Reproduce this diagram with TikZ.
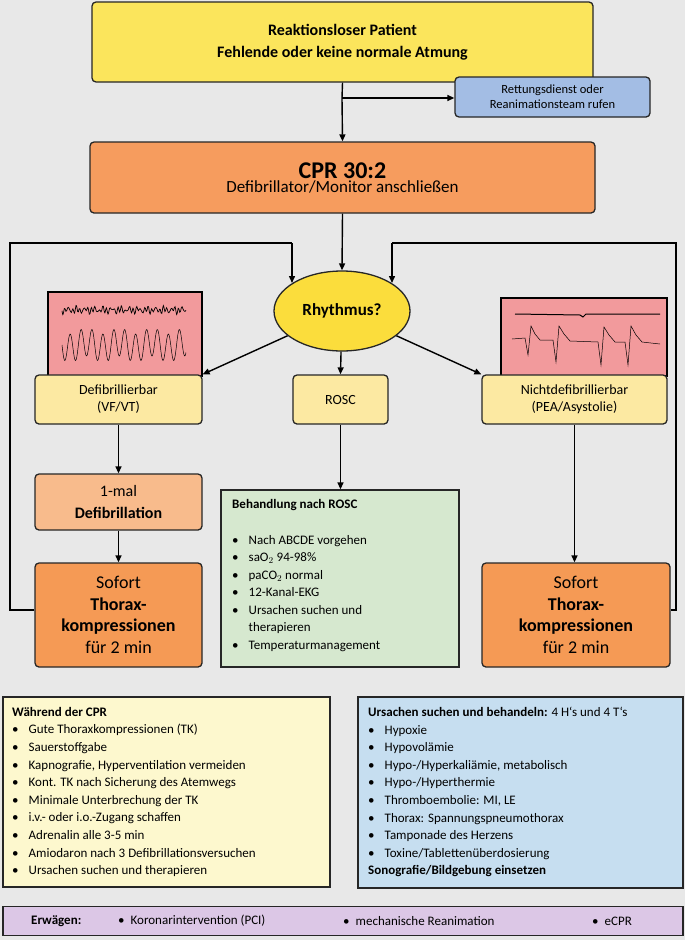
\documentclass[tikz,border=0pt]{standalone}
\usepackage{fontspec}
\setmainfont{Carlito}
\usetikzlibrary{arrows.meta,shapes.geometric}
\definecolor{bg}{HTML}{E8E8E8}
\definecolor{ytop}{HTML}{FBE55C}
\definecolor{bluebox}{HTML}{A3BDE4}
\definecolor{cpr}{HTML}{F69C5E}
\definecolor{ell}{HTML}{FBDD3C}
\definecolor{ecg}{HTML}{F29A9C}
\definecolor{lightY}{HTML}{FCE9A2}
\definecolor{defi}{HTML}{F8BB8C}
\definecolor{sofort}{HTML}{F59A55}
\definecolor{green}{HTML}{D6E8CF}
\definecolor{paleY}{HTML}{FDF8CE}
\definecolor{paleB}{HTML}{C6DEF0}
\definecolor{purp}{HTML}{DCC7E6}
\tikzset{
 box/.style={draw=black!85,line width=1.3pt,rounded corners=4pt,inner sep=2pt,align=center},
 arr/.style={line width=1.4pt,-{Triangle[length=7pt,width=6pt]}},
 ln/.style={line width=1.4pt},
 fs/.style={font=\fontsize{#1pt}{\dimexpr#1pt*6/5\relax}\selectfont}
}
\begin{document}
\begin{tikzpicture}[x=1pt,y=-1pt]
\fill[bg] (0,0) rectangle (685,940);
\useasboundingbox (0,0) rectangle (685,940);
% top
\node[box,fill=ytop,minimum width=501pt,minimum height=80pt,fs=16] (top) at (342.5,42) {\textbf{Reaktionsloser Patient}\\[3pt]\textbf{Fehlende oder keine normale Atmung}};
\node[box,fill=bluebox,minimum width=195pt,minimum height=40pt,fs=12.5] (ret) at (552.5,97) {Rettungsdienst oder\\Reanimationsteam rufen};
\node[box,fill=cpr,minimum width=505pt,minimum height=71pt] (cpr) at (342.5,177.5) {\fontsize{24}{28}\selectfont\textbf{CPR 30:2}\\[2pt]\fontsize{17}{20}\selectfont Defibrillator/Monitor anschließen};
\coordinate (br) at (342,98);
\draw[ln] (top.south) -- (br);
\draw[arr] (br) -- (cpr.north);
\draw[arr] (br) -- (ret.west|-br);
% ellipse
\node[draw=black!85,line width=1.3pt,ellipse,fill=ell,minimum width=136pt,minimum height=80pt,fs=17] (rh) at (342,311) {\textbf{Rhythmus?}};
\draw[arr] (cpr.south) -- (rh.north);
% ECG boxes
\node[draw=black,line width=1.6pt,fill=ecg,minimum width=154pt,minimum height=84pt] (ecgL) at (125,334) {};
\node[draw=black,line width=1.6pt,fill=ecg,minimum width=166pt,minimum height=78pt] (ecgR) at (584,337) {};
% left ECG
\draw[line width=0.7pt] plot[domain=0:124,samples=160,smooth] ({62+\x},{310+2.2*sin(\x*95)+1.5*sin(\x*41+30)+1.2*sin(\x*120)});
\draw[line width=0.5pt] plot[domain=0:124,samples=220,smooth] ({62+\x},{345+14*sin(\x*33)+3*sin(\x*11)});
% right ECG
\draw[line width=1pt] (515,314) -- (580,315) -- (583,317) -- (586,314) -- (660,314);
\draw[line width=0.5pt] (512,339) -- (525,338) -- (528,355) -- (531,326) -- (535,334) -- (540,340) -- (553,340) -- (556,362) -- (559,326) -- (564,334) -- (570,341) -- (598,342) -- (601,365) -- (604,327) -- (609,335) -- (615,342) -- (625,342) -- (628,365) -- (631,326) -- (636,335) -- (642,342) -- (660,344);
% row of small boxes
\node[box,fill=lightY,minimum width=167pt,minimum height=49pt,fs=14] (dL) at (118.5,399.5) {Defibrillierbar\\(VF/VT)};
\node[box,fill=lightY,minimum width=95pt,minimum height=49pt,fs=14] (ro) at (340.5,399.5) {ROSC};
\node[box,fill=lightY,minimum width=185pt,minimum height=49pt,fs=14] (dR) at (574.5,399.5) {Nichtdefibrillierbar\\(PEA/Asystolie)};
\draw[arr] (rh) -- (dL.north east);
\draw[arr] (rh) -- (ro.north);
\draw[arr] (rh) -- (dR.north west);
% defibrillation
\node[box,fill=defi,minimum width=167pt,minimum height=56pt,fs=16] (de) at (118.5,502) {1-mal\\[2pt]\textbf{Defibrillation}};
\node[box,fill=sofort,minimum width=167pt,minimum height=104pt,fs=18] (sL) at (118.5,615) {Sofort\\\textbf{Thorax-}\\\textbf{kompressionen}\\für 2 min};
\node[box,fill=sofort,minimum width=188pt,minimum height=104pt,fs=18] (sR) at (576,615) {Sofort\\\textbf{Thorax-}\\\textbf{kompressionen}\\für 2 min};
\draw[arr] (dL.south) -- (de.north);
\draw[arr] (de.south) -- (sL.north);
\draw[arr] (dR.south) -- (sR.north-|dR.south);
% green box
\node[draw=black!85,line width=1.3pt,fill=green,minimum width=238pt,minimum height=177pt] (gr) at (340,578.5) {};
\node[anchor=north west,align=left,fs=13,inner sep=0pt] (grt) at (232,499) {\textbf{Behandlung nach ROSC}};
\node[anchor=north west,align=left,inner sep=0pt,font=\fontsize{13}{17.5}\selectfont] (grl) at (232,535) {%
\textbullet\hspace{10pt}Nach ABCDE vorgehen\\
\textbullet\hspace{10pt}saO$_2$ 94-98\%\\
\textbullet\hspace{10pt}paCO$_2$ normal\\
\textbullet\hspace{10pt}12-Kanal-EKG\\
\textbullet\hspace{10pt}Ursachen suchen und\\
\phantom{\textbullet}\hspace{10pt}therapieren\\
\textbullet\hspace{10pt}Temperaturmanagement};
\draw[arr] (ro.south) -- (gr.north-|ro.south);
% loops
\coordinate (l1) at (10,610); \coordinate (l2) at (10,243); \coordinate (l3) at (292,243);
\draw[ln] (sL.west|-l1) -- (l1) -- (l2) -- (l3);
\draw[arr] (l3) -- (292,283);
\coordinate (r1) at (676,610); \coordinate (r2) at (676,243); \coordinate (r3) at (392,243);
\draw[ln] (sR.east|-r1) -- (r1) -- (r2) -- (r3);
\draw[arr] (r3) -- (392,283);
% bottom boxes
\node[draw=black!85,line width=1.3pt,fill=paleY,minimum width=327pt,minimum height=190pt] (bY) at (166.5,792) {};
\node[anchor=north west,align=left,inner sep=0pt,font=\fontsize{13}{17.6}\selectfont] (bYt) at (12,707) {%
\textbf{Während der CPR}\\
\textbullet\hspace{10pt}Gute Thoraxkompressionen (TK)\\
\textbullet\hspace{10pt}Sauerstoffgabe\\
\textbullet\hspace{10pt}Kapnografie, Hyperventilation vermeiden\\
\textbullet\hspace{10pt}Kont. TK nach Sicherung des Atemwegs\\
\textbullet\hspace{10pt}Minimale Unterbrechung der TK\\
\textbullet\hspace{10pt}i.v.- oder i.o.-Zugang schaffen\\
\textbullet\hspace{10pt}Adrenalin alle 3-5 min\\
\textbullet\hspace{10pt}Amiodaron nach 3 Defibrillationsversuchen\\
\textbullet\hspace{10pt}Ursachen suchen und therapieren};
\node[draw=black!85,line width=1.3pt,fill=paleB,minimum width=325pt,minimum height=191pt] (bB) at (520.5,792.5) {};
\node[anchor=north west,align=left,inner sep=0pt,font=\fontsize{13}{17.6}\selectfont] (bBt) at (368,707) {%
\textbf{Ursachen suchen und behandeln:} 4 H‘s und 4 T‘s\\
\textbullet\hspace{10pt}Hypoxie\\
\textbullet\hspace{10pt}Hypovolämie\\
\textbullet\hspace{10pt}Hypo-/Hyperkaliämie, metabolisch\\
\textbullet\hspace{10pt}Hypo-/Hyperthermie\\
\textbullet\hspace{10pt}Thromboembolie: MI, LE\\
\textbullet\hspace{10pt}Thorax: Spannungspneumothorax\\
\textbullet\hspace{10pt}Tamponade des Herzens\\
\textbullet\hspace{10pt}Toxine/Tablettenüberdosierung\\
\textbf{Sonografie/Bildgebung einsetzen}};
\node[draw=black!85,line width=1.3pt,fill=purp,minimum width=680pt,minimum height=29pt] (pu) at (343,921) {};
\node[anchor=west,fs=13,inner sep=0pt] (p1) at (31,921) {\textbf{Erwägen:}};
\node[anchor=west,fs=13,inner sep=0pt] (p2) at (118,921) {\textbullet\hspace{6pt}Koronarintervention (PCI)};
\node[anchor=west,fs=13,inner sep=0pt] (p3) at (343,921) {\textbullet\hspace{6pt}mechanische Reanimation};
\node[anchor=west,fs=13,inner sep=0pt] (p4) at (592,921) {\textbullet\hspace{6pt}eCPR};
\end{tikzpicture}
\end{document}
